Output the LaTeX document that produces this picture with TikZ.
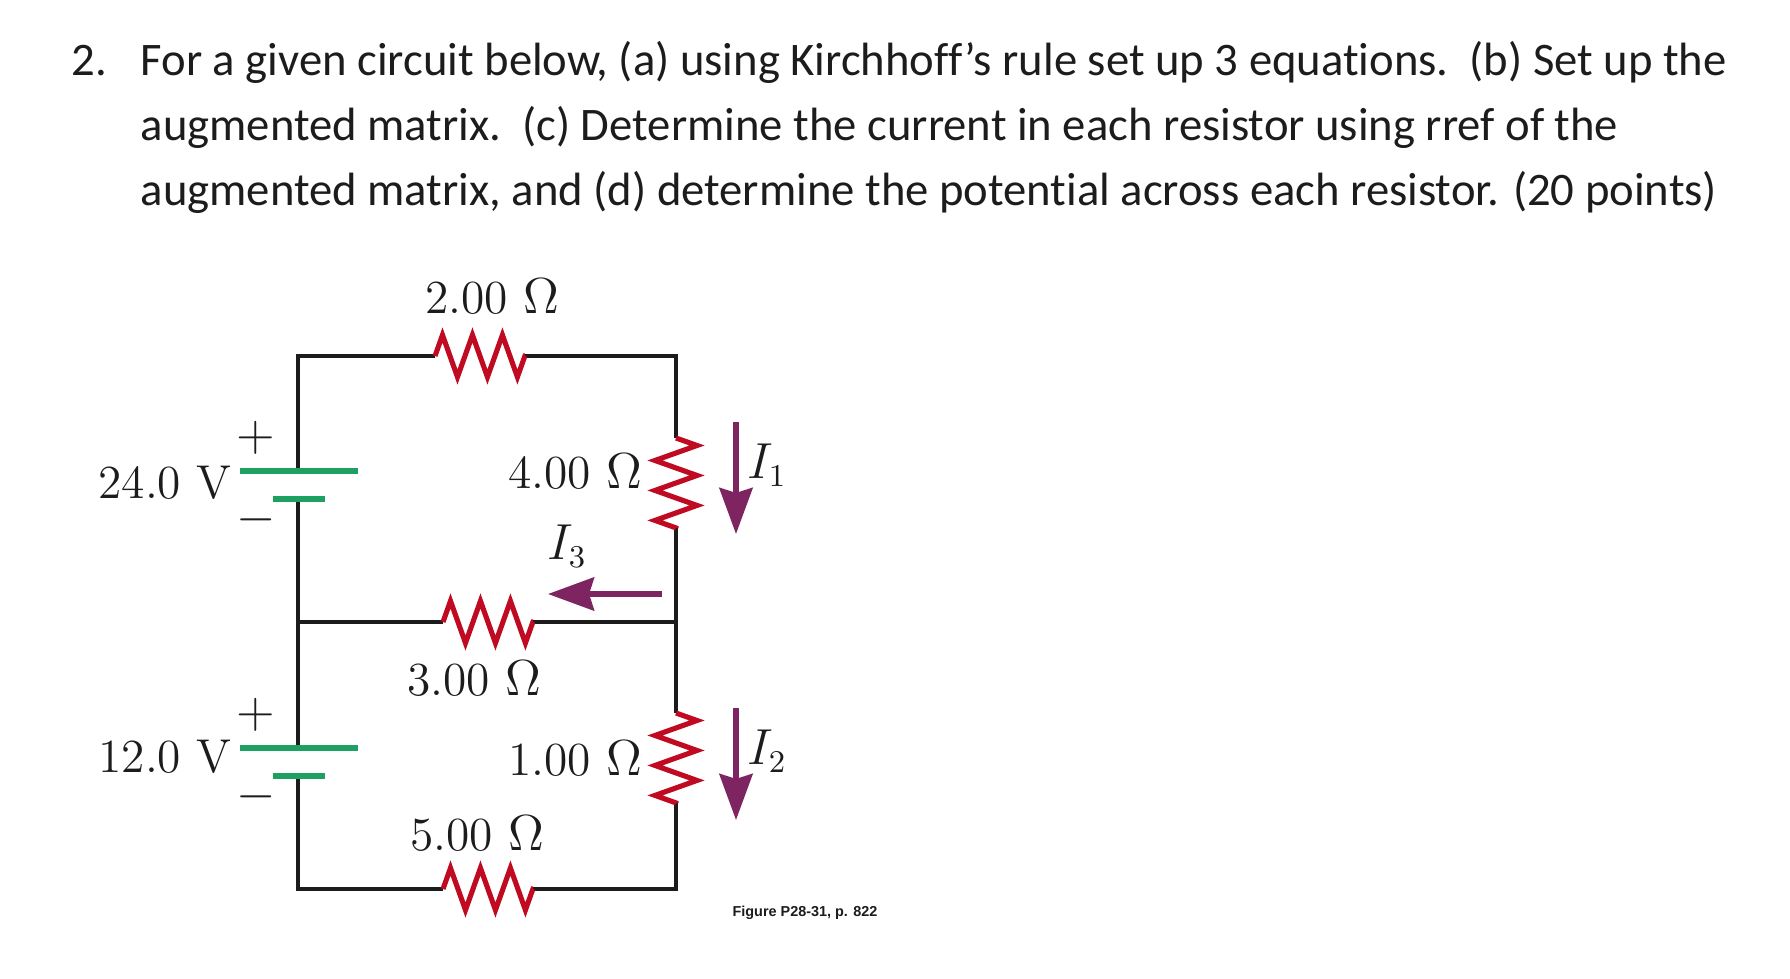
\documentclass[tikz,border=0pt]{standalone}
\usepackage{amsmath}
\usepackage{fontspec}
\usepackage{tikz}
\usetikzlibrary{arrows.meta,decorations.pathmorphing}
\newfontfamily\bodyFont[Ligatures=NoCommon]{Carlito}
\newfontfamily\captionFont{Liberation Sans}
\definecolor{wireBlack}{HTML}{1C1C1C}
\definecolor{resistorRed}{HTML}{C00A22}
\definecolor{plateGreen}{HTML}{1FA063}
\definecolor{currentPurple}{HTML}{7E2461}
\begin{document}
\begin{tikzpicture}[%%
  x=0.01cm,y=-0.01cm,%%
  wireStyle/.style={-,line width=1.2pt,draw=wireBlack,line join=miter},%%
  resistorStyle/.style={line width=1.45pt,draw=resistorRed,miter limit=10,decorate,decoration={zigzag,segment length=0.2995cm,amplitude=0.21cm}},%%
  plateStyle/.style={-,line width=1.5pt,draw=plateGreen},%%
  currentStyle/.style={-{Stealth[length=0.46cm,width=0.33cm,inset=0.05cm]},line width=1.6pt,draw=currentPurple},%%
  textStyle/.style={anchor=base west,inner sep=0pt,text=wireBlack,font=\bodyFont\fontsize{13.27}{16}\selectfont},%%
  labelStyle/.style={inner sep=0pt,text=wireBlack,font=\fontsize{13.5}{16}\selectfont},%%
  signStyle/.style={inner sep=0pt,text=wireBlack,font=\fontsize{14}{16}\selectfont}%%
]
%%
\pgfmathsetmacro{\xleft}{298}
\pgfmathsetmacro{\xright}{676}
\pgfmathsetmacro{\ytop}{356}
\pgfmathsetmacro{\ymid}{622}
\pgfmathsetmacro{\ybot}{889}
%%
\useasboundingbox (0,0) rectangle (1790,979);
\fill[white] (0,0) rectangle (1790,979);
%%
\coordinate (topLeft) at (\xleft,\ytop);
\coordinate (topRight) at (\xright,\ytop);
\coordinate (midLeft) at (\xleft,\ymid);
\coordinate (midRight) at (\xright,\ymid);
\coordinate (botLeft) at (\xleft,\ybot);
\coordinate (botRight) at (\xright,\ybot);
%% Ends of the resistors.
\coordinate (twoA) at (435,\ytop);
\coordinate (twoB) at (525,\ytop);
\coordinate (fourA) at (\xright,438);
\coordinate (fourB) at (\xright,528);
\coordinate (threeA) at (443,\ymid);
\coordinate (threeB) at (533,\ymid);
\coordinate (oneA) at (\xright,713);
\coordinate (oneB) at (\xright,803);
\coordinate (fiveA) at (443,\ybot);
\coordinate (fiveB) at (533,\ybot);
%% Plates of the batteries.
\coordinate (bigPlateA) at (\xleft,471);
\coordinate (smallPlateA) at (\xleft,499);
\coordinate (bigPlateB) at (\xleft,748);
\coordinate (smallPlateB) at (\xleft,776);
%%
%% The question.
\node[textStyle] (numberLine) at (71,75.5) {2.};
\node[textStyle] (lineOne) at (140,75.5) {For a given circuit below, (a) using Kirchhoff’s rule set up 3 equations.\ \ (b) Set up the};
\node[textStyle] (lineTwo) at (140,140.5) {augmented matrix.\ \ (c) Determine the current in each resistor using rref of the};
\node[textStyle] (lineThree) at (140,205.5) {augmented matrix, and (d) determine the potential across each resistor. (20 points)};
%%
%% Draw the wires.
\draw[wireStyle] (bigPlateA) -- (topLeft) -- (twoA);
\draw[wireStyle] (twoB) -- (topRight) -- (fourA);
\draw[wireStyle] (smallPlateA) -- (bigPlateB);
\draw[wireStyle] (midLeft) -- (threeA);
\draw[wireStyle] (threeB) -- (midRight);
\draw[wireStyle] (fourB) -- (oneA);
\draw[wireStyle] (smallPlateB) -- (botLeft) -- (fiveA);
\draw[wireStyle] (fiveB) -- (botRight) -- (oneB);
%% Draw the resistors.
\draw[resistorStyle] (twoA) -- (twoB);
\draw[resistorStyle] (fourA) -- (fourB);
\draw[resistorStyle] (threeA) -- (threeB);
\draw[resistorStyle] (oneA) -- (oneB);
\draw[resistorStyle] (fiveA) -- (fiveB);
%% Draw the batteries.
\foreach \plate in {bigPlateA,bigPlateB} {
  \draw[plateStyle] ([xshift=-58*0.01cm]\plate) -- ([xshift=60*0.01cm]\plate);
}
\foreach \plate in {smallPlateA,smallPlateB} {
  \draw[plateStyle] ([xshift=-25*0.01cm]\plate) -- ([xshift=27*0.01cm]\plate);
}
%% Label the batteries.
\node[labelStyle] (voltA) at (165,483) {24.0 V};
\node[labelStyle] (voltB) at (165,757) {12.0 V};
\node[signStyle] (plusA) at (256,438) {$+$};
\node[signStyle] (minusA) at (256,520) {$-$};
\node[signStyle] (plusB) at (256,715) {$+$};
\node[signStyle] (minusB) at (256,797) {$-$};
%% Label the resistors.
\node[labelStyle] (twoLabel) at (492,297) {2.00 $\Omega$};
\node[labelStyle] (fourLabel) at (575,472) {4.00 $\Omega$};
\node[labelStyle] (threeLabel) at (474,679) {3.00 $\Omega$};
\node[labelStyle] (oneLabel) at (575,759) {1.00 $\Omega$};
\node[labelStyle] (fiveLabel) at (477,834) {5.00 $\Omega$};
%% The currents.
\coordinate (currentOneA) at (736,422);
\coordinate (currentOneB) at (736,534);
\coordinate (currentTwoA) at (736,708);
\coordinate (currentTwoB) at (736,820);
\coordinate (currentThreeA) at (662,594);
\coordinate (currentThreeB) at (548,594);
\draw[currentStyle] (currentOneA) -- (currentOneB);
\draw[currentStyle] (currentTwoA) -- (currentTwoB);
\draw[currentStyle] (currentThreeA) -- (currentThreeB);
\node[labelStyle] (currentOneLabel) at (767,465) {$I_1$};
\node[labelStyle] (currentTwoLabel) at (767,751) {$I_2$};
\node[labelStyle] (currentThreeLabel) at (567,546) {$I_3$};
%%
\node[inner sep=0pt,text=wireBlack,font=\captionFont\bfseries\fontsize{4.1}{5}\selectfont] (figureLabel) at (805,913) {Figure P28-31, p. 822};
\end{tikzpicture}
\end{document}
